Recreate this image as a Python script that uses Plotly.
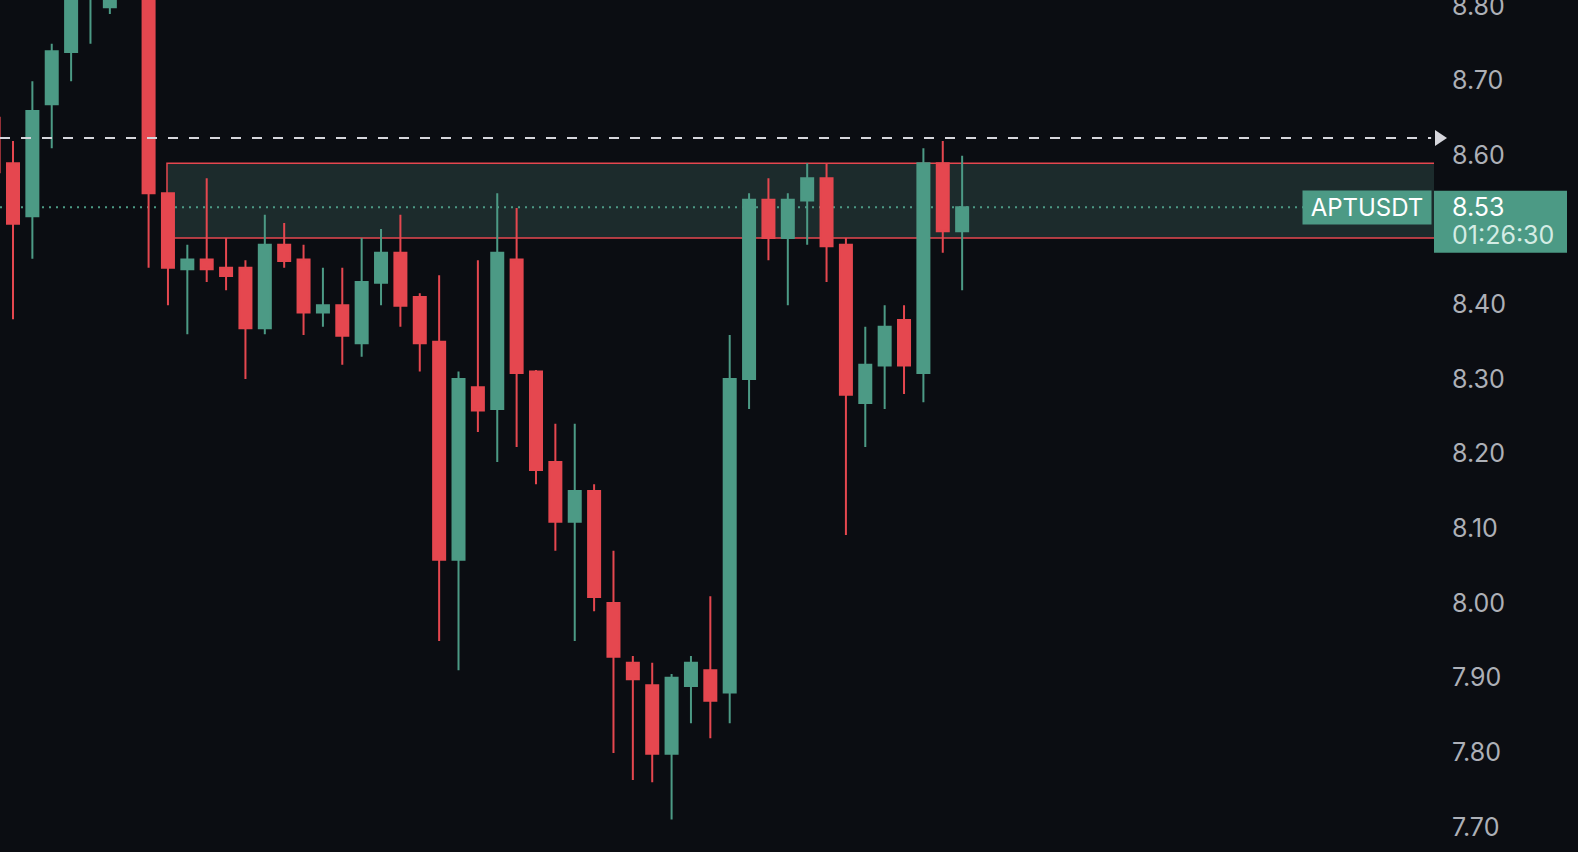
import plotly.graph_objects as go

# candles left to right, index 0 is cut off by the left edge
OPEN = [8.650, 8.589, 8.518, 8.668, 8.738, 8.830, 8.798, 8.860, 8.880, 8.549,
        8.447, 8.460, 8.449, 8.449, 8.368, 8.480, 8.460, 8.389, 8.399, 8.348,
        8.429, 8.469, 8.410, 8.350, 8.058, 8.289, 8.260, 8.460, 8.310, 8.189,
        8.109, 8.150, 8.000, 7.920, 7.890, 7.798, 7.889, 7.910, 7.880, 8.300,
        8.540, 8.489, 8.539, 8.569, 8.480, 8.268, 8.318, 8.379, 8.308, 8.589,
        8.498]
HIGH = [8.670, 8.619, 8.699, 8.749, 8.850, 8.880, 8.850, 8.920, 8.900, 8.549,
        8.480, 8.569, 8.489, 8.459, 8.520, 8.509, 8.480, 8.449, 8.449, 8.489,
        8.501, 8.520, 8.415, 8.439, 8.310, 8.459, 8.549, 8.529, 8.312, 8.240,
        8.240, 8.159, 8.070, 7.929, 7.920, 7.905, 7.929, 8.009, 8.359, 8.549,
        8.569, 8.549, 8.589, 8.589, 8.489, 8.370, 8.399, 8.399, 8.609, 8.619,
        8.599]
LOW = [8.555, 8.380, 8.461, 8.609, 8.699, 8.749, 8.789, 8.820, 8.449, 8.399,
       8.360, 8.430, 8.419, 8.300, 8.360, 8.449, 8.359, 8.370, 8.319, 8.330,
       8.399, 8.370, 8.310, 7.949, 7.910, 8.229, 8.189, 8.209, 8.159, 8.070,
       7.949, 7.989, 7.799, 7.763, 7.760, 7.710, 7.839, 7.819, 7.839, 8.260,
       8.459, 8.399, 8.480, 8.430, 8.091, 8.209, 8.260, 8.280, 8.269, 8.469,
       8.419]
CLOSE = [8.577, 8.508, 8.659, 8.739, 8.830, 8.870, 8.830, 8.900, 8.549, 8.449,
         8.460, 8.447, 8.438, 8.368, 8.480, 8.458, 8.389, 8.399, 8.358, 8.430,
         8.469, 8.398, 8.348, 8.058, 8.300, 8.258, 8.469, 8.308, 8.178, 8.109,
         8.150, 8.008, 7.928, 7.898, 7.798, 7.900, 7.920, 7.869, 8.300, 8.540,
         8.489, 8.540, 8.569, 8.478, 8.279, 8.319, 8.370, 8.318, 8.589, 8.498,
         8.530]

SYMBOL = "APTUSDT"
COUNTDOWN = "01:26:30"
ZONE_LOW = 8.489
ZONE_HIGH = 8.589
ZONE_START = 9  # candle where the zone box starts
DASH_LEVEL = 8.623
TICK_VALUES = [7.70, 7.80, 7.90, 8.00, 8.10, 8.20, 8.30, 8.40, 8.60, 8.70, 8.80]

X_RANGE = [0.329, 74.36]
Y_RANGE = [7.6665, 8.8077]

UP = "#4c9a85"
DOWN = "#e5474f"
BG = "#0b0d12"
LABEL_FONT = "Inter"

last = CLOSE[-1]

fig = go.Figure()
fig.add_trace(go.Candlestick(
    x=list(range(len(OPEN))),
    open=OPEN, high=HIGH, low=LOW, close=CLOSE,
    increasing=dict(line=dict(color=UP, width=2), fillcolor=UP),
    decreasing=dict(line=dict(color=DOWN, width=2), fillcolor=DOWN),
    whiskerwidth=0,
    hoverinfo="skip",
    showlegend=False,
))

# supply zone (right edge runs under the price scale)
fig.add_shape(type="rect", xref="x", yref="y",
              x0=ZONE_START - 0.05, x1=X_RANGE[1] + 1, y0=ZONE_LOW, y1=ZONE_HIGH,
              fillcolor="#1c2b2c", line=dict(color=DOWN, width=1.5), layer="below")
# last price dotted line
fig.add_shape(type="line", xref="x", yref="y", x0=X_RANGE[0], x1=X_RANGE[1], y0=last, y1=last,
              line=dict(color=UP, width=2, dash="2px,5px"), layer="below")
# dashed level with arrow
fig.add_shape(type="line", xref="paper", yref="y", x0=0, x1=0.998, y0=DASH_LEVEL, y1=DASH_LEVEL,
              line=dict(color="#d6d6dc", width=2, dash="10px,11px"), layer="above")
fig.add_shape(type="path", xref="paper", yref="y", xsizemode="pixel", ysizemode="pixel",
              xanchor=1, yanchor=DASH_LEVEL, path="M 1,-8 L 13,0 L 1,8 Z",
              fillcolor="#d6d6dc", line=dict(width=0), layer="above")
# price label box
fig.add_shape(type="rect", xref="paper", yref="y", xsizemode="pixel", ysizemode="pixel",
              xanchor=1, yanchor=last, x0=0, x1=133, y0=16.5, y1=-45.5,
              fillcolor=UP, line=dict(width=0), layer="above")

fig.add_annotation(xref="paper", yref="y", x=1, y=last, xshift=-2, xanchor="right", yanchor="middle",
                   text=SYMBOL, showarrow=False, bgcolor=UP, width=126, height=31, borderpad=1,
                   font=dict(family=LABEL_FONT, size=24, color="#ffffff"))
fig.add_annotation(xref="paper", yref="y", x=1, y=last, xshift=16, xanchor="left", yanchor="middle",
                   text=f"{last:.2f}", showarrow=False,
                   font=dict(family=LABEL_FONT, size=25, color="#ffffff"))
fig.add_annotation(xref="paper", yref="y", x=1, y=last, xshift=16, yshift=-28, xanchor="left", yanchor="middle",
                   text=COUNTDOWN, showarrow=False,
                   font=dict(family=LABEL_FONT, size=25, color="#d4ece4"))

fig.update_layout(
    width=1578, height=852,
    margin=dict(l=0, r=144, t=0, b=0),
    paper_bgcolor=BG, plot_bgcolor=BG,
    boxgap=0.38, boxgroupgap=0,
    showlegend=False,
)
fig.update_xaxes(range=X_RANGE, visible=False, rangeslider=dict(visible=False),
                 fixedrange=True, automargin=False)
fig.update_yaxes(range=Y_RANGE, side="right", showgrid=False, zeroline=False, showline=False,
                 ticks="", tickvals=TICK_VALUES, ticktext=[f"{v:.2f}" for v in TICK_VALUES],
                 ticklabelstandoff=17, ticklabeloverflow="allow", automargin=False,
                 tickfont=dict(family=LABEL_FONT, size=25, color="#adb0b7"), fixedrange=True)

fig.write_html("out.html", config={"displayModeBar": False},
               post_script="document.body.style.margin='0';document.body.style.background='#0b0d12';")
